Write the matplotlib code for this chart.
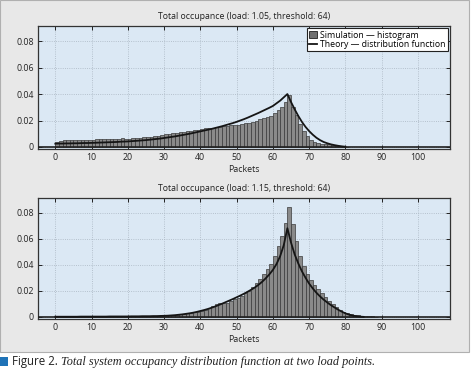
import numpy as np
import matplotlib
matplotlib.use('Agg')
import matplotlib.pyplot as plt
from matplotlib.patches import Rectangle, Patch
from matplotlib.lines import Line2D

plt.rcParams['font.family'] = ['Open Sans', 'DejaVu Sans']

# Simulation histograms: one value per packet bin [k, k+1)
sim_105 = [0.0040, 0.0042, 0.0050, 0.0055, 0.0055, 0.0052, 0.0050, 0.0050, 0.0052, 0.0055,
           0.0055, 0.0057, 0.0058, 0.0060, 0.0060, 0.0058, 0.0060, 0.0062, 0.0065, 0.0064,
           0.0062, 0.0065, 0.0068, 0.0070, 0.0072, 0.0075, 0.0078, 0.0080, 0.0085, 0.0090,
           0.0095, 0.0098, 0.0102, 0.0106, 0.0110, 0.0115, 0.0118, 0.0122, 0.0125, 0.0130,
           0.0135, 0.0140, 0.0143, 0.0147, 0.0150, 0.0153, 0.0157, 0.0160, 0.0163, 0.0165,
           0.0168, 0.0172, 0.0178, 0.0185, 0.0192, 0.0200, 0.0210, 0.0220, 0.0228, 0.0235,
           0.0260, 0.0280, 0.0305, 0.0340, 0.0390, 0.0300, 0.0240, 0.0170, 0.0120, 0.0080,
           0.0055, 0.0040, 0.0032, 0.0026, 0.0022, 0.0019, 0.0015, 0.0011, 0.0007, 0.0004,
           0.0002]
sim_115 = [0.0002, 0.0002, 0.0003, 0.0003, 0.0003, 0.0003, 0.0003, 0.0003, 0.0004, 0.0004,
           0.0004, 0.0004, 0.0004, 0.0005, 0.0005, 0.0005, 0.0005, 0.0006, 0.0006, 0.0006,
           0.0006, 0.0007, 0.0007, 0.0007, 0.0008, 0.0008, 0.0009, 0.0009, 0.0010, 0.0011,
           0.0012, 0.0013, 0.0015, 0.0017, 0.0020, 0.0023, 0.0026, 0.0030, 0.0035, 0.0040,
           0.0048, 0.0055, 0.0068, 0.0080, 0.0095, 0.0105, 0.0108, 0.0110, 0.0120, 0.0135,
           0.0145, 0.0160, 0.0180, 0.0200, 0.0230, 0.0260, 0.0290, 0.0330, 0.0365, 0.0405,
           0.0470, 0.0545, 0.0620, 0.0720, 0.0840, 0.0710, 0.0580, 0.0470, 0.0390, 0.0330,
           0.0280, 0.0245, 0.0210, 0.0180, 0.0150, 0.0120, 0.0095, 0.0075, 0.0055, 0.0040,
           0.0030, 0.0020, 0.0015, 0.0011, 0.0008, 0.0006, 0.0004, 0.0003, 0.0002]

# Theory: distribution function at integer packet counts
theory_105 = [0.0025, 0.0026, 0.0026, 0.0027, 0.0027, 0.0028, 0.0028, 0.0029, 0.0030, 0.0030,
              0.0031, 0.0032, 0.0033, 0.0034, 0.0035, 0.0036, 0.0037, 0.0038, 0.0040, 0.0041,
              0.0042, 0.0044, 0.0046, 0.0048, 0.0050, 0.0052, 0.0055, 0.0058, 0.0061, 0.0064,
              0.0068, 0.0072, 0.0076, 0.0080, 0.0085, 0.0090, 0.0095, 0.0100, 0.0106, 0.0112,
              0.0118, 0.0124, 0.0130, 0.0136, 0.0143, 0.0150, 0.0157, 0.0165, 0.0173, 0.0181,
              0.0190, 0.0200, 0.0210, 0.0221, 0.0233, 0.0245, 0.0257, 0.0270, 0.0283, 0.0296,
              0.0310, 0.0330, 0.0350, 0.0375, 0.0400, 0.0340, 0.0285, 0.0235, 0.0190, 0.0152,
              0.0120, 0.0093, 0.0070, 0.0052, 0.0038, 0.0028, 0.0020, 0.0014, 0.0009, 0.0005,
              0.0002]
theory_115 = [0.0001, 0.0001, 0.0001, 0.0001, 0.0001, 0.0001, 0.0001, 0.0002, 0.0002, 0.0002,
              0.0002, 0.0002, 0.0002, 0.0002, 0.0002, 0.0003, 0.0003, 0.0003, 0.0003, 0.0003,
              0.0003, 0.0004, 0.0004, 0.0004, 0.0005, 0.0005, 0.0005, 0.0006, 0.0006, 0.0007,
              0.0008, 0.0009, 0.0011, 0.0013, 0.0016, 0.0019, 0.0023, 0.0027, 0.0032, 0.0038,
              0.0045, 0.0052, 0.0060, 0.0069, 0.0079, 0.0090, 0.0101, 0.0113, 0.0125, 0.0137,
              0.0150, 0.0163, 0.0177, 0.0192, 0.0208, 0.0225, 0.0245, 0.0268, 0.0295, 0.0325,
              0.0360, 0.0405, 0.0465, 0.0550, 0.0680, 0.0570, 0.0480, 0.0410, 0.0350, 0.0300,
              0.0255, 0.0218, 0.0185, 0.0157, 0.0132, 0.0110, 0.0090, 0.0072, 0.0055, 0.0040,
              0.0027, 0.0017, 0.0010, 0.0005, 0.0002, 0.0000]

titles = ['Total occupance (load: 1.05, threshold: 64)',
          'Total occupance (load: 1.15, threshold: 64)']
x_ticks = list(range(0, 101, 10))
y_ticks = [0, 0.02, 0.04, 0.06, 0.08]
y_tick_labels = ['0', '0.02', '0.04', '0.06', '0.08']
legend_labels = ['Simulation \u2014 histogram', 'Theory \u2014 distribution function']

fs = 6.3
fig = plt.figure(figsize=(4.74, 3.70), dpi=100, facecolor='white')

# grey panel behind the charts
fig.patches.append(Rectangle((0, 0.048), 0.99, 0.952, transform=fig.transFigure,
                             facecolor='#e8e8e8', edgecolor='#b0b0b0', lw=0.8, zorder=-10))

positions = [[0.080, 0.597, 0.869, 0.332], [0.080, 0.138, 0.869, 0.327]]
data = [(sim_105, theory_105), (sim_115, theory_115)]

for i, (pos, (sim, th)) in enumerate(zip(positions, data)):
    ax = fig.add_axes(pos)
    ax.set_facecolor('#dbe8f4')
    ax.bar(np.arange(len(sim)), sim, width=1.0, align='edge',
           facecolor='#8a8a8a', edgecolor='#3a3a3a', linewidth=0.5, zorder=2)
    ax.axhline(0, color='#202020', lw=1.2, zorder=3)
    ax.plot(np.arange(len(th)), th, color='#151515', lw=1.3, zorder=4)
    ax.set_xlim(-4.8, 108.8)
    ax.set_ylim(-0.0016, 0.0912)
    ax.set_xticks(x_ticks)
    ax.set_yticks(y_ticks)
    ax.set_yticklabels(y_tick_labels)
    ax.tick_params(direction='in', top=True, right=True, length=3, width=0.7,
                   labelsize=fs, pad=3, colors='#222222')
    ax.grid(True, linestyle=':', color='#a8b4c0', lw=0.6, zorder=0)
    ax.set_axisbelow(True)
    for s in ax.spines.values():
        s.set_color('#333333')
        s.set_linewidth(0.9)
    ax.set_title(titles[i], fontsize=fs, pad=5, color='#222222')
    ax.set_xlabel('Packets', fontsize=fs, labelpad=2, color='#222222')
    if i == 0:
        handles = [Patch(facecolor='#707070', edgecolor='#202020', lw=0.6),
                   Line2D([], [], color='#151515', lw=1.3)]
        leg = ax.legend(handles, legend_labels, loc='upper right', fontsize=fs,
                        handlelength=0.9, handleheight=0.9, handletextpad=0.3,
                        borderpad=0.25, labelspacing=0.05, borderaxespad=0.25,
                        fancybox=False, framealpha=1, edgecolor='#222222')
        leg.get_frame().set_linewidth(0.8)

# caption
fig.patches.append(Rectangle((0.0, 0.010), 0.017, 0.026, transform=fig.transFigure,
                             facecolor='#1f73b7', edgecolor='none'))
t1 = fig.text(0.025, 0.013, 'Figure 2. ', fontsize=8.3, color='#222222',
              family=['Open Sans', 'DejaVu Sans'])
fig.text(0, 0, '')
ax0 = fig.axes[0]
ax0.annotate('Total system occupancy distribution function at two load points.',
             xy=(1, 0), xycoords=t1, xytext=(0, 0), textcoords='offset points',
             va='bottom', fontsize=8.8, style='italic', color='#222222',
             family=['Liberation Serif', 'DejaVu Serif'], annotation_clip=False)

fig.savefig('out.png', dpi=100, facecolor=fig.get_facecolor())
